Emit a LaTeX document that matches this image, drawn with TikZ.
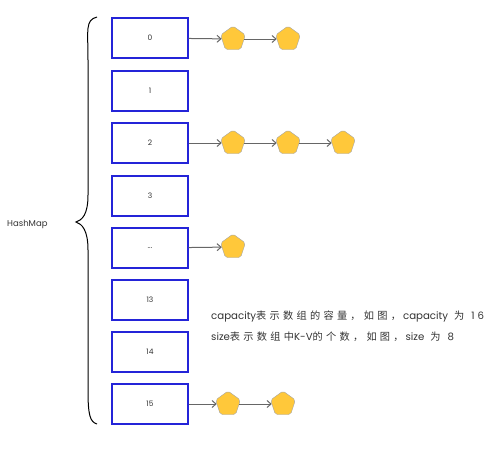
\documentclass[tikz,border=0pt]{standalone}
\usepackage{fontspec}
\setmainfont{Poppins}
\newfontfamily\cjk[LetterSpace=32]{Noto Sans CJK SC}
\newfontfamily\lat{Poppins}
\usetikzlibrary{arrows.meta,shapes.geometric}
\definecolor{boxblue}{HTML}{2424D8}
\definecolor{pent}{HTML}{FFC83A}
\definecolor{txt}{HTML}{333333}
\tikzset{
  slot/.style={draw=boxblue, line width=1.1pt, fill=white, minimum width=76pt, minimum height=40pt, inner sep=0pt, font=\lat\fontsize{7.5}{9}\selectfont, text=txt},
  entry/.style={regular polygon, regular polygon sides=5, draw=gray!70, line width=0.4pt, fill=pent, minimum size=26pt, inner sep=0pt, rounded corners=2pt},
  link/.style={draw=gray!80!black, line width=1pt, -{Straight Barb[length=4pt,width=7pt]}},
  note/.style={anchor=west, font=\fontsize{10.2}{12}\selectfont, text=txt, inner sep=0pt}
}
\begin{document}
\begin{tikzpicture}[x=1pt,y=-1pt]
\useasboundingbox (0,0) rectangle (488,458);
\node[slot] (s0) at (150,38) {0};
\node[slot] (s1) at (150,91) {1};
\node[slot] (s2) at (150,143) {2};
\node[slot] (s3) at (150,196) {3};
\node[slot] (s4) at (150,248) {...};
\node[slot] (s13) at (150,300) {13};
\node[slot] (s14) at (150,352) {14};
\node[slot] (s15) at (150,404) {15};
\node[entry] (a1) at (233,39) {};
\node[entry] (a2) at (288,39) {};
\node[entry] (b1) at (233,143) {};
\node[entry] (b2) at (288,143) {};
\node[entry] (b3) at (343,143) {};
\node[entry] (c1) at (233,247) {};
\node[entry] (d1) at (228,404) {};
\node[entry] (d2) at (283,404) {};
\draw[link] (s0) -- (a1);
\draw[link] (a1) -- (a2);
\draw[link] (s2) -- (b1);
\draw[link] (b1) -- (b2);
\draw[link] (b2) -- (b3);
\draw[link] (s4) -- (c1);
\draw[link] (s15) -- (d1);
\draw[link] (d1) -- (d2);
\coordinate (bt) at (97,17);
\coordinate (bb) at (97,424);
\coordinate (tip) at (76,222);
\draw[line width=1pt, black] (bt) .. controls (85,20) and (88,30) .. (88,60)
  -- (88,195) .. controls (88,215) and (82,220) .. (tip)
  .. controls (82,224) and (88,230) .. (88,250)
  -- (88,390) .. controls (88,415) and (90,422) .. (bb);
\node[font=\lat\fontsize{8.5}{10}\selectfont, text=txt, anchor=west, inner sep=0pt] (hm) at (7,224) {HashMap};
\node[note] (n1) at (211,317) {\lat capacity{\cjk 表示数组的容量，如图，}\hspace{2pt}capacity\hspace{6pt}{\cjk 为}\hspace{7pt}1\hspace{3pt}6};
\node[note] (n2) at (211,337) {\lat size{\cjk 表示数组中}K-V{\cjk 的个数，如图，}\hspace{2pt}size\hspace{6pt}{\cjk 为}\hspace{7pt}8};
\end{tikzpicture}
\end{document}
